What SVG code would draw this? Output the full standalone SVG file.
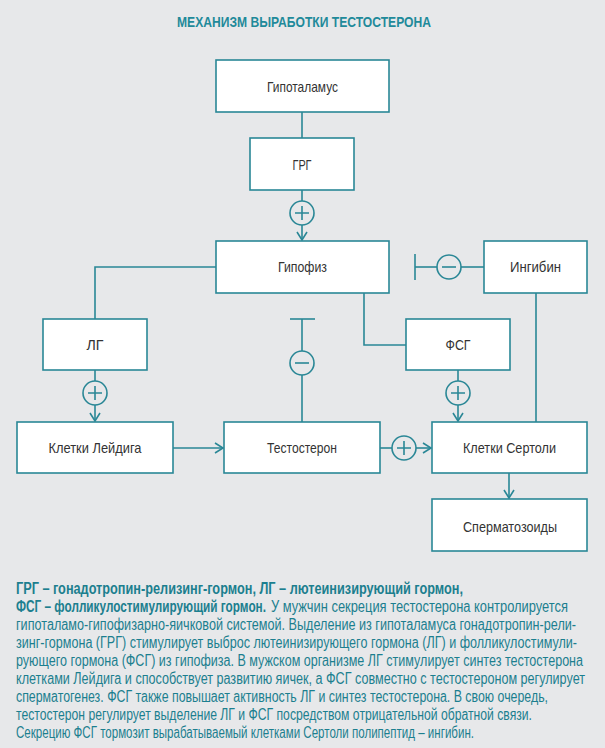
<svg xmlns="http://www.w3.org/2000/svg" width="605" height="748" viewBox="0 0 605 748">
<defs>
<style>
.box{fill:#ffffff;stroke:#2a8796;stroke-width:1.6}
.lbl{font-family:"Liberation Sans",Arial,sans-serif;font-size:14.5px;fill:#333333;text-anchor:middle}
.ln{fill:none;stroke:#2a8796;stroke-width:1.6}
.sg{fill:#e7e8ea;stroke:#2a8796;stroke-width:1.6}
.ttl{font-family:"Liberation Sans",Arial,sans-serif;font-size:15px;font-weight:bold;fill:#1f8a9a}
.cap{font-family:"Liberation Sans",Arial,sans-serif;font-size:16px;fill:#1c7f8f}
.capb{font-family:"Liberation Sans",Arial,sans-serif;font-size:16px;fill:#1c7f8f;font-weight:bold}
</style>
<marker id="arr" markerUnits="userSpaceOnUse" markerWidth="12" markerHeight="12" viewBox="0 0 12 12" refX="10" refY="6" orient="auto">
<path d="M2,1 L10,6 L2,11" fill="none" stroke="#2a8796" stroke-width="1.6"/>
</marker>
</defs>
<rect x="0" y="0" width="605" height="748" fill="#e7e8ea"/>
<text class="ttl" x="177" y="27" textLength="254" lengthAdjust="spacingAndGlyphs">МЕХАНИЗМ ВЫРАБОТКИ ТЕСТОСТЕРОНА</text>

<g id="connectors">
<path class="ln" d="M302,112 V138"/>
<path class="ln" d="M302,190 V201"/>
<path class="ln" d="M302,225 V240" marker-end="url(#arr)"/>
<path class="ln" d="M216,267 H95 V319"/>
<path class="ln" d="M95,370 V381"/>
<path class="ln" d="M95,405 V421" marker-end="url(#arr)"/>
<path class="ln" d="M364,293 V345 H406"/>
<path class="ln" d="M458,370 V381"/>
<path class="ln" d="M458,405 V421" marker-end="url(#arr)"/>
<path class="ln" d="M484,267 H461"/>
<path class="ln" d="M437,267 H415"/>
<path class="ln" d="M415,254 V280"/>
<path class="ln" d="M536,293 V422"/>
<path class="ln" d="M173,448 H223" marker-end="url(#arr)"/>
<path class="ln" d="M380,448 H392"/>
<path class="ln" d="M416,448 H431" marker-end="url(#arr)"/>
<path class="ln" d="M302,422 V375"/>
<path class="ln" d="M302,351 V319"/>
<path class="ln" d="M290,319 H315"/>
<path class="ln" d="M509,473 V498" marker-end="url(#arr)"/>
<g id="sign-grg"><circle class="sg" cx="302" cy="213" r="12"/><path class="ln" d="M295,213 H309 M302,206 V220"/></g>
<g id="sign-lg"><circle class="sg" cx="95" cy="393" r="12"/><path class="ln" d="M88,393 H102 M95,386 V400"/></g>
<g id="sign-fsg"><circle class="sg" cx="458" cy="393" r="12"/><path class="ln" d="M451,393 H465 M458,386 V400"/></g>
<g id="sign-test"><circle class="sg" cx="404" cy="448" r="12"/><path class="ln" d="M397,448 H411 M404,441 V455"/></g>
<g id="sign-inh"><circle class="sg" cx="449" cy="267" r="12"/><path class="ln" d="M442,267 H456"/></g>
<g id="sign-neg"><circle class="sg" cx="302" cy="363" r="12"/><path class="ln" d="M295,363 H309"/></g>
</g>

<g id="hypothalamus"><rect class="box" x="216" y="60" width="173" height="52"/><text class="lbl" x="302.5" y="92" textLength="71" lengthAdjust="spacingAndGlyphs">Гипоталамус</text></g>
<g id="grg"><rect class="box" x="250" y="138" width="104" height="52"/><text class="lbl" x="302" y="170" textLength="19" lengthAdjust="spacingAndGlyphs">ГРГ</text></g>
<g id="hypophysis"><rect class="box" x="216" y="241" width="173" height="52"/><text class="lbl" x="302.5" y="272" textLength="49" lengthAdjust="spacingAndGlyphs">Гипофиз</text></g>
<g id="inhibin"><rect class="box" x="484" y="241" width="103" height="52"/><text class="lbl" x="535.5" y="272" textLength="51" lengthAdjust="spacingAndGlyphs">Ингибин</text></g>
<g id="lg"><rect class="box" x="43" y="319" width="104" height="51"/><text class="lbl" x="95" y="350" textLength="17" lengthAdjust="spacingAndGlyphs">ЛГ</text></g>
<g id="fsg"><rect class="box" x="406" y="319" width="104" height="51"/><text class="lbl" x="458" y="350" textLength="25" lengthAdjust="spacingAndGlyphs">ФСГ</text></g>
<g id="leydig"><rect class="box" x="17" y="422" width="156" height="51"/><text class="lbl" x="95" y="453" textLength="93" lengthAdjust="spacingAndGlyphs">Клетки Лейдига</text></g>
<g id="testosterone"><rect class="box" x="224" y="422" width="156" height="51"/><text class="lbl" x="302" y="453" textLength="70" lengthAdjust="spacingAndGlyphs">Тестостерон</text></g>
<g id="sertoli"><rect class="box" x="432" y="422" width="155" height="51"/><text class="lbl" x="509.5" y="453" textLength="93" lengthAdjust="spacingAndGlyphs">Клетки Сертоли</text></g>
<g id="sperm"><rect class="box" x="432" y="499" width="155" height="52"/><text class="lbl" x="510" y="532" textLength="94" lengthAdjust="spacingAndGlyphs">Сперматозоиды</text></g>

<g id="caption">
<text class="capb" x="16" y="594" textLength="447" lengthAdjust="spacingAndGlyphs">ГРГ – гонадотропин-релизинг-гормон, ЛГ – лютеинизирующий гормон,</text>
<text class="capb" x="16" y="612" textLength="250" lengthAdjust="spacingAndGlyphs">ФСГ – фолликулостимулирующий гормон.</text>
<text class="cap" x="271" y="612" textLength="297" lengthAdjust="spacingAndGlyphs">У мужчин секреция тестостерона контролируется</text>
<text class="cap" x="16" y="630" textLength="560" lengthAdjust="spacingAndGlyphs">гипоталамо-гипофизарно-яичковой системой. Выделение из гипоталамуса гонадотропин-рели-</text>
<text class="cap" x="16" y="648" textLength="561" lengthAdjust="spacingAndGlyphs">зинг-гормона (ГРГ) стимулирует выброс лютеинизирующего гормона (ЛГ) и фолликулостимули-</text>
<text class="cap" x="16" y="666" textLength="567" lengthAdjust="spacingAndGlyphs">рующего гормона (ФСГ) из гипофиза. В мужском организме ЛГ стимулирует синтез тестостерона</text>
<text class="cap" x="16" y="684" textLength="569" lengthAdjust="spacingAndGlyphs">клетками Лейдига и способствует развитию яичек, а ФСГ совместно с тестостероном регулирует</text>
<text class="cap" x="16" y="702" textLength="532" lengthAdjust="spacingAndGlyphs">сперматогенез. ФСГ также повышает активность ЛГ и синтез тестостерона. В свою очередь,</text>
<text class="cap" x="16" y="720" textLength="516" lengthAdjust="spacingAndGlyphs">тестостерон регулирует выделение ЛГ и ФСГ посредством отрицательной обратной связи.</text>
<text class="cap" x="16" y="738" textLength="458" lengthAdjust="spacingAndGlyphs">Секрецию ФСГ тормозит вырабатываемый клетками Сертоли полипептид – ингибин.</text>
</g>
</svg>
